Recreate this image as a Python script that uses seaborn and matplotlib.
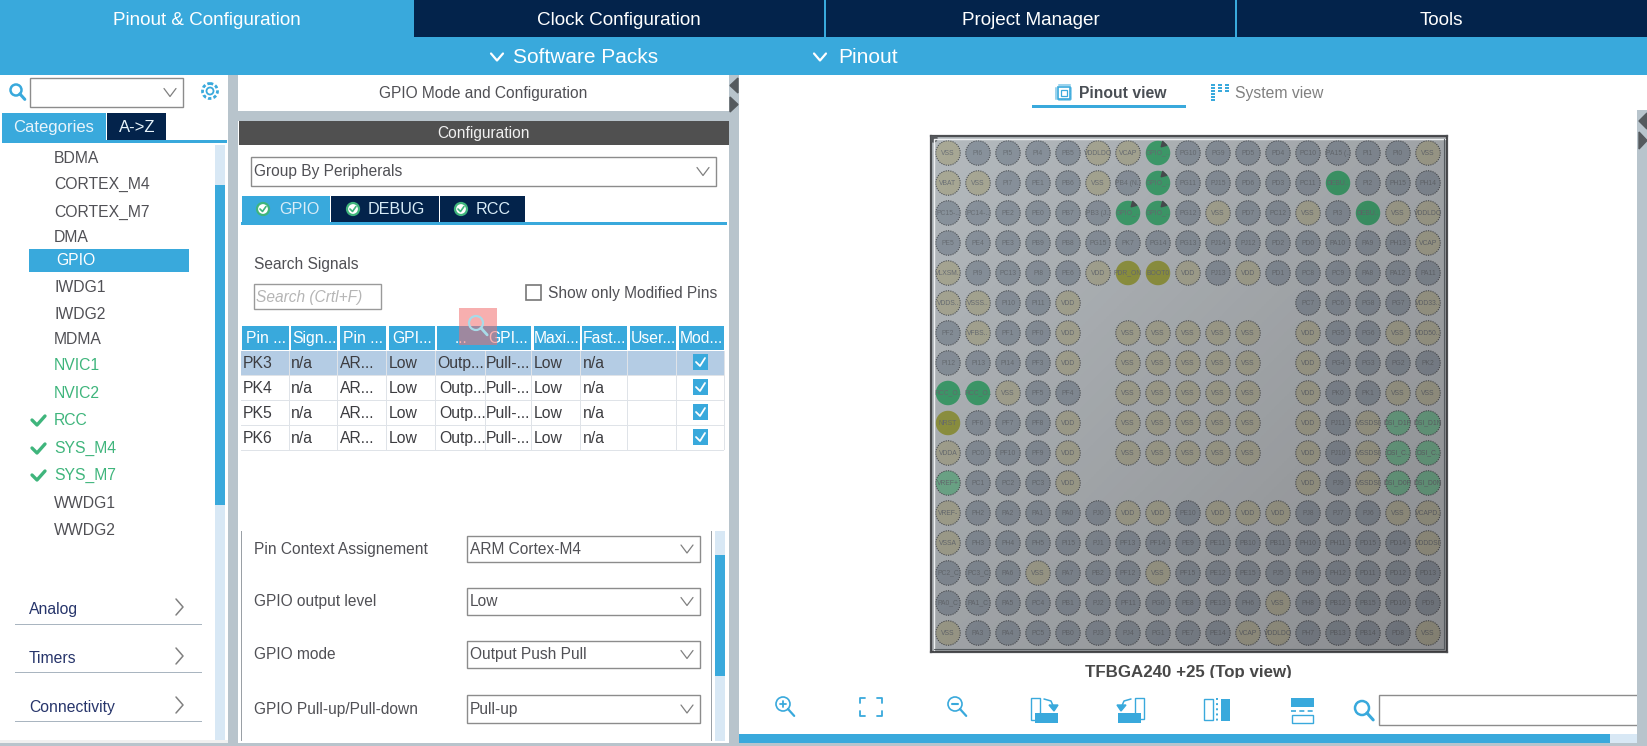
import numpy as np
import pandas as pd
import matplotlib
matplotlib.use('Agg')
import matplotlib.pyplot as plt
from matplotlib.patches import Rectangle, Circle
import seaborn as sns

# pin names of the package, row by row, blank = no ball
PIN_ROWS = [
    ['VSS', 'PI6', 'PI5', 'PI4', 'PB5', 'VDDLDO', 'VCAP', 'GPIO_..', 'PG10', 'PG9', 'PD5', 'PD4', 'PC10', 'PA15 (..', 'PI1', 'PI0', 'VSS'],
    ['VBAT', 'VSS', 'PI7', 'PE1', 'PB6', 'VSS', 'PB4 (N..', 'GPIO_..', 'PG11', 'PJ15', 'PD6', 'PD3', 'PC11', 'DEBU..', 'PI2', 'PH15', 'PH14'],
    ['PC15-..', 'PC14-..', 'PE2', 'PE0', 'PB7', 'PB3 (J..', 'GPIO_..', 'GPIO_..', 'PG12', 'VSS', 'PD7', 'PC12', 'VSS', 'PI3', 'DEBU..', 'VSS', 'VDDLDO'],
    ['PE5', 'PE4', 'PE3', 'PB9', 'PB8', 'PG15', 'PK7', 'PG14', 'PG13', 'PJ14', 'PJ12', 'PD2', 'PD0', 'PA10', 'PA9', 'PH13', 'VCAP'],
    ['VLXSM..', 'PI9', 'PC13', 'PI8', 'PE6', 'VDD', 'PDR_ON', 'BOOT0', 'VDD', 'PJ13', 'VDD', 'PD1', 'PC8', 'PC9', 'PA8', 'PA12', 'PA11'],
    ['VDDS..', 'VSSS..', 'PI10', 'PI11', 'VDD', '', '', '', '', '', '', '', 'PC7', 'PC6', 'PG8', 'PG7', 'VDD33..'],
    ['PF2', 'VFBS..', 'PF1', 'PF0', 'VDD', '', 'VSS', 'VSS', 'VSS', 'VSS', 'VSS', '', 'VDD', 'PG5', 'PG6', 'VSS', 'VDD50..'],
    ['PI12', 'PI13', 'PI14', 'PF3', 'VDD', '', 'VSS', 'VSS', 'VSS', 'VSS', 'VSS', '', 'VDD', 'PG4', 'PG3', 'PG2', 'PK2'],
    ['RCC_O..', 'RCC_O..', 'VSS', 'PF5', 'PF4', '', 'VSS', 'VSS', 'VSS', 'VSS', 'VSS', '', 'VDD', 'PK0', 'PK1', 'VSS', 'VSS'],
    ['NRST', 'PF6', 'PF7', 'PF8', 'VDD', '', 'VSS', 'VSS', 'VSS', 'VSS', 'VSS', '', 'VDD', 'PJ11', 'VSSDSI', 'DSI_D1P', 'DSI_D1N'],
    ['VDDA', 'PC0', 'PF10', 'PF9', 'VDD', '', 'VSS', 'VSS', 'VSS', 'VSS', 'VSS', '', 'VDD', 'PJ10', 'VSSDSI', 'DSI_C..', 'DSI_C..'],
    ['VREF+', 'PC1', 'PC2', 'PC3', 'VDD', '', '', '', '', '', '', '', 'VDD', 'PJ9', 'VSSDSI', 'DSI_D0P', 'DSI_D0N'],
    ['VREF-', 'PH2', 'PA2', 'PA1', 'PA0', 'PJ0', 'VDD', 'VDD', 'PE10', 'VDD', 'VDD', 'VDD', 'PJ8', 'PJ7', 'PJ6', 'VSS', 'VCAPD..'],
    ['VSSA', 'PH3', 'PH4', 'PH5', 'PI15', 'PJ1', 'PF13', 'PF14', 'PE9', 'PE11', 'PB10', 'PB11', 'PH10', 'PH11', 'PD15', 'PD14', 'VDDDSI'],
    ['PC2_C', 'PC3_C', 'PA6', 'VSS', 'PA7', 'PB2', 'PF12', 'VSS', 'PF15', 'PE12', 'PE15', 'PJ5', 'PH9', 'PH12', 'PD11', 'PD12', 'PD13'],
    ['PA0_C', 'PA1_C', 'PA5', 'PC4', 'PB1', 'PJ2', 'PF11', 'PG0', 'PE8', 'PE13', 'PH6', 'VSS', 'PH8', 'PB12', 'PB15', 'PD10', 'PD9'],
    ['VSS', 'PA3', 'PA4', 'PC5', 'PB0', 'PJ3', 'PJ4', 'PG1', 'PE7', 'PE14', 'VCAP', 'VDDLDO', 'PH7', 'PB13', 'PB14', 'PD8', 'VSS'],
]

# left list
CATEGORY_ITEMS = ['BDMA', 'CORTEX_M4', 'CORTEX_M7', 'DMA', 'GPIO', 'IWDG1', 'IWDG2', 'MDMA',
                  'NVIC1', 'NVIC2', 'RCC', 'SYS_M4', 'SYS_M7', 'WWDG1', 'WWDG2']
CATEGORY_Y = [158, 184, 212, 237, 260, 287, 314, 339, 365, 393, 420, 448, 475, 503, 530]
GREEN_ITEMS = ['NVIC1', 'NVIC2', 'RCC', 'SYS_M4', 'SYS_M7']
CHECKED_ITEMS = ['RCC', 'SYS_M4', 'SYS_M7']
GROUP_ITEMS = ['Analog', 'Timers', 'Connectivity']

# top tabs
MAIN_TABS = ['Pinout & Configuration', 'Clock Configuration', 'Project Manager', 'Tools']

# signal table
TABLE_HEADER = ['Pin ...', 'Sign...', 'Pin ...', 'GPI...', '...', 'GPI...', 'Maxi...', 'Fast...', 'User...', 'Mod...']
TABLE_PINS = ['PK3', 'PK4', 'PK5', 'PK6']
TABLE_SIGNAL = ['n/a', 'n/a', 'n/a', 'n/a']
TABLE_CONTEXT = ['AR...', 'AR...', 'AR...', 'AR...']
TABLE_LEVEL = ['Low', 'Low', 'Low', 'Low']
TABLE_MODE = ['Outp...', 'Outp...', 'Outp...', 'Outp...']
TABLE_PULL = ['Pull-...', 'Pull-...', 'Pull-...', 'Pull-...']
TABLE_SPEED = ['Low', 'Low', 'Low', 'Low']
TABLE_FAST = ['n/a', 'n/a', 'n/a', 'n/a']

# form at the bottom of the middle panel
FORM_LABELS = ['Pin Context Assignement', 'GPIO output level', 'GPIO mode', 'GPIO Pull-up/Pull-down']
FORM_VALUES = ['ARM Cortex-M4', 'Low', 'Output Push Pull', 'Pull-up']

BLUE = '#39a9dc'
NAVY = '#03234b'
GRAY_BAND = '#b8c4cc'
TRACK = '#d8e8f5'
TEXT = '#505055'
GREEN = '#3fb57c'

sns.set_theme(style='white')
plt.rcParams['font.family'] = ['Liberation Sans', 'DejaVu Sans']

W, H = 1647, 746
fig = plt.figure(figsize=(W / 100, H / 100), dpi=100, facecolor='white')
ui = fig.add_axes([0, 0, 1, 1])
ui.set_xlim(0, W)
ui.set_ylim(H, 0)
ui.axis('off')


def rect(x0, y0, x1, y1, color='none', edge='none', lw=0, z=1, alpha=None):
    ui.add_patch(Rectangle((x0, y0), x1 - x0, y1 - y0, facecolor=color, edgecolor=edge,
                           linewidth=lw, zorder=z, alpha=alpha))


def label(x, y, s, size=11.2, color=TEXT, ha='left', z=6, **kw):
    # y is the middle of the capitals, so that all texts sit on one baseline
    ui.text(x, y + size * 0.42, s, fontsize=size, color=color, ha=ha, va='baseline', zorder=z, **kw)


def lines(xs, ys, color=BLUE, lw=1.2, z=6):
    ui.plot(xs, ys, color=color, lw=lw, zorder=z, solid_capstyle='round')


def chevron_down(x, y, w=6, h=4, color='#808080', lw=0.9):
    lines([x - w, x, x + w], [y - h, y + h, y - h], color=color, lw=lw)


def magnifier(x, y, r=6, color=BLUE, lw=1.4, z=6):
    ui.add_patch(Circle((x, y), r, fill=False, edgecolor=color, linewidth=lw, zorder=z))
    lines([x + r * 0.7, x + r * 1.6], [y + r * 0.7, y + r * 1.7], color=color, lw=lw + 0.4, z=z)


def combo(x0, y0, x1, y1, value=None, tx=None, size=11.2):
    rect(x0, y0, x1, y1, color='white', edge='#8c8c8c', lw=1.0, z=3)
    chevron_down(x1 - 13, (y0 + y1) / 2)
    if value:
        label(tx if tx else x0 + 3, (y0 + y1) / 2, value, size=size)


def tick_badge(x, y):
    ui.add_patch(Circle((x, y), 6, facecolor='white', edgecolor=GREEN, linewidth=1.6, zorder=7))
    lines([x - 3, x - 0.5, x + 3], [y, y + 2.5, y - 2.5], color=GREEN, lw=1.2, z=8)


# ---- frame of the window ----
rect(0, 0, W, H, color='white', z=0)
rect(0, 0, W, 75, color=BLUE)
tab_edges = [0, 413, 825, 1236, 1647]
for i, name in enumerate(MAIN_TABS):
    if i > 0:
        rect(tab_edges[i] + 1, 0, tab_edges[i + 1] - 1 if i < 3 else W, 37, color=NAVY, z=2)
    label((tab_edges[i] + tab_edges[i + 1]) / 2, 19, name, size=13.6, color='white', ha='center')
chevron_down(497, 57, w=6, h=3.5, color='white', lw=1.6)
label(513, 57, 'Software Packs', size=15, color='white')
chevron_down(820, 57, w=6, h=3.5, color='white', lw=1.6)
label(838, 57, 'Pinout', size=15, color='white')

rect(228, 75, 238, 746, color=GRAY_BAND)
rect(729, 75, 739, 746, color=GRAY_BAND)
rect(238, 111, 729, 121, color=GRAY_BAND)
rect(1637, 110, W, 746, color=GRAY_BAND)
rect(0, 740, 228, 743, color='#f0f0f0')
rect(0, 743, W, H, color=GRAY_BAND, z=2)

# ---- left panel ----
magnifier(16, 90, r=5.5, lw=1.8)
combo(30, 78, 183, 107)
ui.add_patch(Circle((210, 91), 7.5, fill=False, edgecolor=BLUE, linewidth=2, linestyle=(0, (1.2, 0.8)), zorder=6))
ui.add_patch(Circle((210, 91), 3.5, fill=False, edgecolor=BLUE, linewidth=1.3, zorder=6))
rect(2, 113, 106, 140, color=BLUE)
rect(107, 113, 166, 140, color=NAVY)
label(54, 127, 'Categories', size=12, color='#e8f4fb', ha='center')
label(137, 127, 'A->Z', size=12, color='#e8f4fb', ha='center')
rect(2, 140, 227, 143, color=BLUE)

rect(215, 145, 225, 740, color=TRACK)
rect(215, 185, 225, 505, color=BLUE)
rect(29, 249, 189, 272, color=BLUE)
for name, y in zip(CATEGORY_ITEMS, CATEGORY_Y):
    if name == 'GPIO':
        label(56, y, name, size=11.3, color='white')
    elif name in GREEN_ITEMS:
        label(54, y, name, size=11.3, color=GREEN)
    else:
        label(54, y, name, size=11.3, color=TEXT)
    if name in CHECKED_ITEMS:
        lines([32, 37, 45], [y, y + 5, y - 4], color=GREEN, lw=2.4)

for name, y, line_y in zip(GROUP_ITEMS, [609, 658, 707], [624, 672, 721]):
    label(29, y, name, size=11.3, color='#27356b')
    rect(15, line_y, 202, line_y + 1, color='#a9b5c0')
    lines([176, 183, 176], [y - 10, y - 2, y + 6], color='#808080', lw=1.1)

# ---- middle panel ----
label(483, 93, 'GPIO Mode and Configuration', ha='center')
rect(239, 121, 729, 145, color='#505050')
label(483, 133, 'Configuration', color='#f0f0f0', ha='center')
combo(251, 157, 716, 186, 'Group By Peripherals', tx=254)
rect(242, 196, 330, 222, color=BLUE)
rect(331, 196, 439, 222, color=NAVY)
rect(440, 196, 525, 222, color=NAVY)
for x, name, tx in zip([263, 353, 461], ['GPIO', 'DEBUG', 'RCC'], [279, 368, 476]):
    tick_badge(x, 209)
    label(tx, 209, name, size=11.6, color='#d8ecf7')
rect(241, 222, 727, 225, color=BLUE)

label(254, 264, 'Search Signals')
rect(254, 284, 381, 309, color='white', edge='#9a9a9a', lw=1.0, z=3)
label(256, 297, 'Search (Crtl+F)', color='#b5b5b5', style='italic')
rect(526, 285, 541, 300, color='white', edge='#777777', lw=1.2, z=3)
label(548, 293, 'Show only Modified Pins')

# signal table, one column after the other
col_x0 = [242, 291, 340, 389, 437, 485, 534, 582, 630, 679]
col_x1 = [289, 337, 386, 435, 485, 531, 580, 627, 676, 724]
row_y0 = [351, 376, 401, 426]
rect(241, 351, 724, 375, color='#b4cce4', z=1)
for x0, x1, head in zip(col_x0, col_x1, TABLE_HEADER):
    rect(x0, 326, x1, 350, color=BLUE, z=2)
    label((x0 + x1) / 2, 338, head, size=11.3, color='white', ha='center')
    rect(x1, 351, x1 + 1, 450, color='#dfe3e8', z=2)
for y in row_y0:
    rect(241, y + 24, 724, y + 25, color='#dfe3e8', z=2)
columns = [TABLE_PINS, TABLE_SIGNAL, TABLE_CONTEXT, TABLE_LEVEL, TABLE_MODE, TABLE_PULL, TABLE_SPEED, TABLE_FAST]
text_x = [243, 291, 340, 389, 437, 486, 534, 583]
for values, x in zip(columns, text_x):
    for i, (val, y) in enumerate(zip(values, row_y0)):
        shift = 2 if values is TABLE_MODE and i > 0 else 0
        label(x + shift, y + 12.5, val, size=11.3, color='#3c3c40')
for y in row_y0:
    rect(693, y + 3, 708, y + 19, color=BLUE, z=3)
    lines([696, 700, 705], [y + 11, y + 15, y + 7], color='white', lw=1.3)

# red search overlay
ui.add_patch(Rectangle((459, 308), 38, 37, facecolor='#f26d6d', alpha=0.55, edgecolor='none', zorder=7))
magnifier(476, 323, r=7, color='#a8dbe8', lw=1.6, z=8)

# form
rect(241, 531, 242, 741, color='#9aa0a6')
rect(711, 531, 712, 741, color='#9aa0a6')
rect(715, 531, 725, 741, color=TRACK)
rect(715, 555, 725, 676, color=BLUE)
for name, value, y0, y1 in zip(FORM_LABELS, FORM_VALUES, [536, 588, 641, 695], [562, 615, 668, 723]):
    label(254, (y0 + y1) / 2, name)
    combo(467, y0, 700, y1, value, tx=470)

# ---- right panel ----
ui.plot([1055, 1073], [93, 93], color=BLUE, lw=9, ls=(0, (0.08, 0.16)), zorder=5)
ui.plot([1064, 1064], [84, 102], color=BLUE, lw=9, ls=(0, (0.08, 0.16)), zorder=5)
rect(1058, 87, 1070, 99, color='white', edge=BLUE, lw=1.2, z=5.5)
rect(1061, 90, 1067, 96, edge=BLUE, lw=0.9, z=6)
label(1079, 93, 'Pinout view', size=11.3, color='#4a4f55', weight='bold')
rect(1032, 105, 1186, 108, color=BLUE)
for x0, x1, y_end in [(1211, 1215, 100), (1218, 1222, 92), (1225, 1229, 92)]:
    for y in np.arange(84, y_end, 3):
        rect(x0, y, x1, y + 1.6, color=BLUE, z=6)
label(1235, 93, 'System view', size=11.3, color='#808080')

# small collapse arrows on the bands
ui.fill([730, 738, 738], [85.5, 78, 93], color='#555a5e', zorder=6)
ui.fill([730, 730, 738], [97, 112, 104.5], color='#555a5e', zorder=6)
ui.fill([1639, 1647, 1647], [121, 113, 129], color='#555a5e', zorder=6)
ui.fill([1639, 1639, 1647], [132, 149, 140.5], color='#555a5e', zorder=6)

label(1188, 672, 'TFBGA240 +25 (Top view)', size=12.2, color='#484848', ha='center', weight='bold', z=2)
rect(739, 678, 1637, 734, color='white', z=3)

# toolbar
magnifier(783, 704, r=7, lw=1.2)
lines([780, 786], [704, 704], lw=1.3)
lines([783, 783], [701, 707], lw=1.3)
for xs, ys in [([860, 860, 865], [703, 698, 698]), ([877, 882, 882], [698, 698, 703]),
               ([860, 860, 865], [711, 716, 716]), ([877, 882, 882], [716, 716, 711])]:
    lines(xs, ys, lw=1.3)
magnifier(955, 704, r=7, lw=1.2)
lines([952, 958], [704, 704], lw=1.5)
rect(1031, 698, 1040, 720, edge=BLUE, lw=1.0, z=6)
rect(1035, 713, 1058, 723, color=BLUE, z=6)
lines([1044, 1051, 1054], [699, 701, 708], lw=1.1)
ui.fill([1049, 1058, 1054], [705, 705, 711], color=BLUE, zorder=6)
rect(1135, 698, 1144, 719, edge=BLUE, lw=1.0, z=6)
rect(1118, 713, 1141, 723, color=BLUE, z=6)
lines([1131, 1124, 1121], [699, 701, 708], lw=1.1)
ui.fill([1117, 1126, 1121], [705, 705, 711], color=BLUE, zorder=6)
rect(1204, 699, 1213, 720, edge=BLUE, lw=1.0, z=6)
rect(1221, 699, 1230, 721, color=BLUE, z=6)
ui.plot([1217, 1217], [698, 722], color=BLUE, lw=1.4, ls=':', zorder=6)
rect(1291, 698, 1314, 707, color=BLUE, z=6)
ui.plot([1291, 1314], [710.5, 710.5], color=BLUE, lw=1.2, ls=(0, (3, 2)), zorder=6)
rect(1292, 715, 1313, 723, edge=BLUE, lw=1.0, z=6)
magnifier(1362, 708, r=7, lw=1.8)
rect(1379, 695, 1640, 725, color='white', edge='#8c8c8c', lw=1.0, z=3)
rect(1637, 690, W, 734, color=GRAY_BAND, z=4)
rect(739, 734, 1637, 743, color=TRACK, z=3)
rect(739, 734, 1610, 743, color=BLUE, z=4)

# ---- the chip ----
pins = pd.DataFrame([
    {'col': c, 'row': r, 'name': name}
    for r, row in enumerate(PIN_ROWS) for c, name in enumerate(row) if name
])


def pin_kind(name):
    if name.startswith(('GPIO', 'DEBU', 'RCC_O')):
        return 'assigned'
    if name in ('PDR_ON', 'BOOT0', 'NRST'):
        return 'boot'
    if name.startswith('DSI_') or name == 'VREF+':
        return 'dsi'
    if name.startswith(('VSS', 'VDD', 'VCAP', 'VBAT', 'VLX', 'VFB', 'VREF')):
        return 'power'
    return 'signal'


pins['kind'] = pins['name'].map(pin_kind)
palette = {'signal': '#8a949e', 'power': '#a9a996', 'assigned': '#3fa06e',
           'boot': '#939843', 'dsi': '#72b090'}

fx0, fy0, fx1, fy1 = 931, 136, 1447, 652
chip = fig.add_axes([fx0 / W, 1 - fy1 / H, (fx1 - fx0) / W, (fy1 - fy0) / H])
chip.set_facecolor('#b4babe')
xlim = (-17 / 30, 16 + 19 / 30)
ylim = (16 + 19 / 30, -17 / 30)

size = (24.5 * 0.72) ** 2
idle = pins[pins['kind'].isin(['signal', 'power', 'dsi'])]
active = pins[pins['kind'].isin(['assigned', 'boot'])]
sns.scatterplot(data=idle, x='col', y='row', hue='kind', palette=palette, s=size, ax=chip, legend=False,
                edgecolor='#44484d', linewidth=0.7, linestyle=(0, (1.2, 1.2)), zorder=2)
sns.scatterplot(data=active, x='col', y='row', hue='kind', palette=palette, s=size, ax=chip, legend=False,
                edgecolor='none', linewidth=0, zorder=2)
for _, p in pins.iterrows():
    chip.text(p['col'], p['row'], p['name'], fontsize=4.9, color='#6a7076', ha='center', va='center',
              zorder=3, clip_on=True)

pinned = pins[pins['name'].str.startswith('GPIO')]
chip.scatter(pinned['col'] + 0.18, pinned['row'] - 0.3, s=22, marker=(3, 0, 135), color='#4a4f52', zorder=4)
chip.scatter([-0.5], [-0.5], s=25, color='#55585c', zorder=4)

# dark veil, heavier towards the lower right
ramp = np.add.outer(np.linspace(0, 1, 200), np.linspace(0, 1, 200)) / 2
veil = np.zeros((200, 200, 4))
veil[..., 0] = 0.05
veil[..., 3] = ramp * 0.25
chip.imshow(veil, extent=(*xlim, *ylim), aspect='auto', zorder=5)

# thin light inner line of the frame
chip.plot([-0.47, -0.47, 16.55], [16.55, -0.47, -0.47], color='#eef0f2', lw=1.0, zorder=6)
chip.plot([16.53, 16.53, -0.47], [-0.47, 16.53, 16.53], color='#555a5e', lw=0.8, zorder=6)

chip.set_xlim(*xlim)
chip.set_ylim(*ylim)
chip.set_xticks([])
chip.set_yticks([])
chip.set_xlabel('')
chip.set_ylabel('')
for sp in chip.spines.values():
    sp.set_visible(True)
    sp.set_color('#4d4f52')
    sp.set_linewidth(1.6)

fig.savefig('out.png', dpi=100)
